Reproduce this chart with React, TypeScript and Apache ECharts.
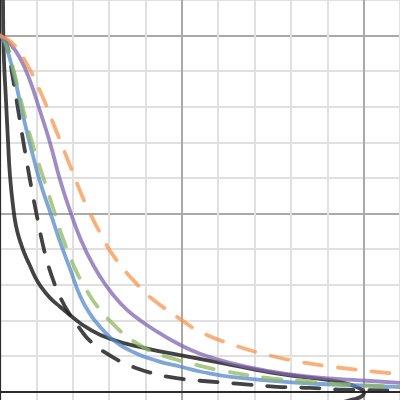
import React, { useEffect, useRef } from "react";
import * as echarts from "echarts";

// Axis ranges and grid steps
const xRange = [0, 11];
const yRange = [-0.1, 1.1];
const xStep = 1;
const yStep = 0.1;

// Curves: [x, y]
const blackSolid: number[][] = [
  [0.074, 1.154], [0.083, 1.097], [0.091, 1.004], [0.11, 0.929], [0.165, 0.817],
  [0.22, 0.704], [0.275, 0.606], [0.358, 0.522], [0.44, 0.465], [0.55, 0.423],
  [0.688, 0.384], [0.825, 0.353], [0.963, 0.322], [1.128, 0.294], [1.375, 0.263],
  [1.65, 0.238], [1.98, 0.21], [2.393, 0.179], [3.025, 0.148], [4.043, 0.12],
  [4.95, 0.102], [5.968, 0.082], [6.876, 0.064], [7.783, 0.048], [9.158, 0.03],
  [9.626, 0.019], [9.901, 0.008], [10.011, -0.004], [9.928, -0.015], [9.681, -0.023],
  [9.351, -0.032],
];

const blackDashed: number[][] = [
  [0, 1], [0.193, 0.971], [0.33, 0.895], [0.468, 0.811], [0.605, 0.724],
  [0.743, 0.642], [0.88, 0.564], [1.018, 0.491], [1.155, 0.423], [1.293, 0.367],
  [1.458, 0.314], [1.65, 0.266], [1.925, 0.215], [2.2, 0.176], [2.475, 0.142],
  [2.943, 0.106], [3.52, 0.075], [4.125, 0.053], [4.813, 0.038], [5.5, 0.03],
  [6.518, 0.022], [7.618, 0.013], [8.526, 0.01], [9.433, 0.005], [11, 0.003],
];

const blueSolid: number[][] = [
  [0, 1], [0.138, 0.977], [0.358, 0.901], [0.633, 0.775], [0.908, 0.662],
  [1.128, 0.58], [1.375, 0.505], [1.65, 0.421], [1.925, 0.345], [2.2, 0.269],
  [2.475, 0.218], [2.75, 0.182], [3.108, 0.145], [3.658, 0.111], [4.318, 0.086],
  [4.95, 0.07], [5.5, 0.056], [6.408, 0.04], [8.251, 0.024], [10.094, 0.016],
  [11, 0.012],
];

const greenDashed: number[][] = [
  [0, 1], [0.138, 0.985], [0.358, 0.909], [0.633, 0.794], [0.908, 0.69],
  [1.183, 0.603], [1.458, 0.516], [1.733, 0.429], [2.063, 0.345], [2.393, 0.283],
  [2.668, 0.24], [3.245, 0.176], [3.658, 0.142], [4.208, 0.111], [4.758, 0.092],
  [5.5, 0.072], [5.968, 0.061], [7.343, 0.038], [8.251, 0.03], [9.158, 0.022],
  [11, 0.013],
];

const purpleSolid: number[][] = [
  [0, 1], [0.275, 0.977], [0.55, 0.937], [0.825, 0.873], [1.1, 0.788],
  [1.375, 0.699], [1.65, 0.595], [1.925, 0.508], [2.2, 0.432], [2.558, 0.356],
  [2.943, 0.294], [3.3, 0.249], [3.658, 0.215], [4.318, 0.168], [4.95, 0.131],
  [5.5, 0.106], [6.408, 0.078], [7.343, 0.058], [8.251, 0.044], [9.158, 0.036],
  [10.094, 0.03], [11, 0.024],
];

const orangeDashed: number[][] = [
  [0, 1], [0.358, 0.977], [0.688, 0.929], [1.1, 0.845], [1.458, 0.755],
  [1.843, 0.656], [2.2, 0.564], [2.42, 0.513], [2.75, 0.446], [3.163, 0.375],
  [3.85, 0.292], [4.208, 0.258], [4.95, 0.204], [5.5, 0.168], [6.408, 0.131],
  [7.343, 0.103], [8.251, 0.083], [9.158, 0.069], [10.644, 0.052], [11, 0.049],
];

const MINOR = "#e0e0e0";
const MAJOR = "#a9a9a9";
const AXIS = "#2b2b2b";
const DASH = [18, 16];

function makeLine(data: number[][], color: string, dashed: boolean) {
  return {
    type: "line",
    data,
    smooth: 0.5,
    showSymbol: false,
    symbol: "none",
    silent: true,
    clip: true,
    lineStyle: {
      color,
      width: 3.8,
      type: dashed ? DASH : "solid",
      cap: "round",
      join: "round",
    },
  };
}

export default function App() {
  const ref = useRef<HTMLDivElement>(null);
  useEffect(() => {
    if (!ref.current) return;
    document.body.style.margin = "0";
    document.body.style.overflow = "hidden";
    const chart = echarts.init(ref.current, undefined, { renderer: "svg" });
    chart.setOption({
      animation: false,
      backgroundColor: "#ffffff",
      grid: { left: 0, right: 0, top: 0, bottom: 0, containLabel: false },
      xAxis: {
        type: "value",
        min: xRange[0],
        max: xRange[1],
        interval: xStep,
        axisLine: { show: true, onZero: true, lineStyle: { color: AXIS, width: 2.2 } },
        axisTick: { show: false },
        axisLabel: { show: false },
        splitLine: {
          show: true,
          lineStyle: { color: [MAJOR, MINOR, MINOR, MINOR, MINOR], width: 2 },
        },
      },
      yAxis: {
        type: "value",
        min: yRange[0],
        max: yRange[1],
        interval: yStep,
        axisLine: { show: true, onZero: true, lineStyle: { color: AXIS, width: 2.2 } },
        axisTick: { show: false },
        axisLabel: { show: false },
        splitLine: {
          show: true,
          lineStyle: { color: [MINOR, MAJOR, MINOR, MINOR, MINOR], width: 2 },
        },
      },
      series: [
        makeLine(blackSolid, "rgba(34,34,34,0.85)", false),
        makeLine(blackDashed, "rgba(34,34,34,0.85)", true),
        makeLine(blueSolid, "rgba(83,136,203,0.75)", false),
        makeLine(greenDashed, "rgba(143,184,96,0.75)", true),
        makeLine(purpleSolid, "rgba(128,102,176,0.75)", false),
        makeLine(orangeDashed, "rgba(247,150,78,0.75)", true),
      ],
    });
    return () => chart.dispose();
  }, []);
  return (
    <div
      style={{
        position: "absolute",
        left: 0,
        top: 0,
        width: 400,
        height: 400,
        overflow: "hidden",
      }}
    >
      <div ref={ref} style={{ position: "relative", top: -0.5, width: 400, height: 426.5 }} />
    </div>
  );
}
